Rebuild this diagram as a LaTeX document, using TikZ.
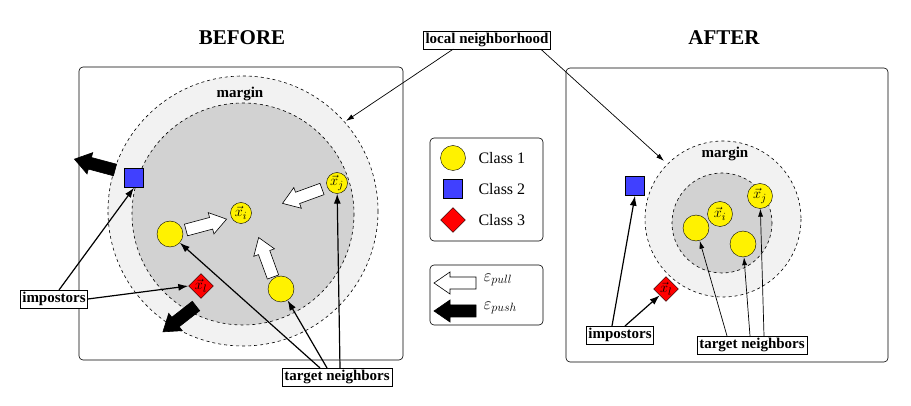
\documentclass[tikz,border=0pt]{standalone}
\usepackage{fontspec}
\setmainfont{Liberation Serif}
\usetikzlibrary{shapes.geometric,arrows.meta}
\begin{document}
\begin{tikzpicture}[x=1pt,y=-1pt,
 frame/.style={draw,rounded corners=4pt,line width=0.6pt},
 lbl/.style={draw,fill=white,font=\fontsize{15}{16}\selectfont\bfseries,inner sep=2pt},
 ptr/.style={-{Latex[length=10pt,width=7pt]},line width=1.2pt},
 thin/.style={-{Latex[length=8pt,width=5pt]},line width=0.7pt},
 c1/.style={circle,draw,fill=yellow,inner sep=0pt,font=\fontsize{15}{16}\selectfont},
 sq/.style={rectangle,draw,fill=blue!75,minimum size=19pt,inner sep=0pt},
 dm/.style={diamond,draw,fill=red,minimum size=25pt,inner sep=0pt,font=\fontsize{15}{16}\selectfont},
 outerc/.style={draw,dashed,fill=gray!10,line width=0.6pt},
 innerc/.style={draw,dashed,fill=gray!35,line width=0.6pt}]
\useasboundingbox (0,0) rectangle (911,406);
\tikzset{fatarrow/.pic={\filldraw[fill=#1,line width=0.6pt] (0,-6) -- (26,-6) -- (26,-11) -- (42,0) -- (26,11) -- (26,6) -- (0,6) -- cycle;}}
\node[font=\fontsize{21}{22}\selectfont\bfseries] (tb) at (242,38) {BEFORE};
\node[font=\fontsize{21}{22}\selectfont\bfseries] (ta) at (724,38) {AFTER};
% left panel
\draw[frame] (79,67) rectangle (403,360);
\draw[outerc] (243,211) circle (135);
\draw[innerc] (243,214) circle (111);
\node[font=\fontsize{15}{16}\selectfont\bfseries] (m1) at (240,94) {margin};
\node[c1,minimum size=21pt] (xi) at (241,213) {$\vec{x}_i$};
\node[c1,minimum size=21pt] (xj) at (337,183) {$\vec{x}_j$};
\node[c1,minimum size=26pt] (a1) at (170,234) {};
\node[c1,minimum size=26pt] (a2) at (281,289) {};
\node[sq] (s1) at (134,178) {};
\node[dm] (d1) at (201,286) {$\vec{x}_l$};
% pull arrows (white)
\pic[rotate=15] at (186,230) {fatarrow=white};
\pic[rotate=110] at (273,277) {fatarrow=white};
\pic[rotate=200] at (322,189) {fatarrow=white};
% push arrows (black)
\pic[rotate=165] at (115,170) {fatarrow=black};
\pic[rotate=218] at (196,306) {fatarrow=black};
% legend
\draw[frame] (430,138) rectangle (543,241);
\node[c1,minimum size=25pt] (l1) at (453,158) {};
\node[sq] (l2) at (453,189) {};
\node[dm] (l3) at (453,220) {};
\node[anchor=west,font=\fontsize{16}{17}\selectfont] (t1) at (475,158) {Class 1};
\node[anchor=west,font=\fontsize{16}{17}\selectfont] (t2) at (475,189) {Class 2};
\node[anchor=west,font=\fontsize{16}{17}\selectfont] (t3) at (475,220) {Class 3};
\draw[frame] (430,265) rectangle (543,325);
\pic[rotate=180] at (476,283) {fatarrow=white};
\pic[rotate=180] at (476,311) {fatarrow=black};
\node[anchor=west,font=\fontsize{17}{18}\selectfont] (e1) at (480,280) {$\varepsilon_{pull}$};
\node[anchor=west,font=\fontsize{17}{18}\selectfont] (e2) at (480,308) {$\varepsilon_{push}$};
% right panel
\draw[frame] (566,68) rectangle (888,362);
\draw[outerc] (723,219) circle (78);
\draw[innerc] (722,223) circle (50);
\node[font=\fontsize{15}{16}\selectfont\bfseries] (m2) at (725,154) {margin};
\node[c1,minimum size=25pt] (ri) at (720,214) {$\vec{x}_i$};
\node[c1,minimum size=25pt] (rj) at (760,196) {$\vec{x}_j$};
\node[c1,minimum size=26pt] (r1) at (696,228) {};
\node[c1,minimum size=26pt] (r2) at (743,244) {};
\node[sq] (s2) at (635,186) {};
\node[dm,minimum size=23pt] (d2) at (666,289) {$\vec{x}_l$};
% labels
\node[lbl] (loc) at (487,40) {local neighborhood};
\node[lbl] (imp1) at (54,299) {impostors};
\node[lbl] (tn1) at (337,377) {target neighbors};
\node[lbl] (imp2) at (620,335) {impostors};
\node[lbl] (tn2) at (752,345) {target neighbors};
% connectors
\coordinate (oc1) at (346,121);
\coordinate (oc2) at (664,161);
\draw[thin] (loc.south west) ++(30,0) -- (oc1);
\draw[thin] (loc.south east) ++(-10,0) -- (oc2);
\draw[ptr] (imp1.north) ++(5,0) -- (s1.south);
\draw[ptr] (imp1.east) -- (d1.west);
\draw[ptr] (tn1.north) ++(-17,0) -- (a1);
\draw[ptr] (tn1.north) ++(-10,0) -- (a2);
\draw[ptr] (tn1.north) ++(3,0) -- (xj);
\draw[ptr] (imp2.north) ++(-8,0) -- (s2.south);
\draw[ptr] (imp2.north) ++(5,0) -- (d2.south west);
\draw[thin] (tn2.north) ++(-25,0) -- (r1);
\draw[thin] (tn2.north) ++(-2,0) -- (r2);
\draw[thin] (tn2.north) ++(12,0) -- (rj);
\end{tikzpicture}
\end{document}
